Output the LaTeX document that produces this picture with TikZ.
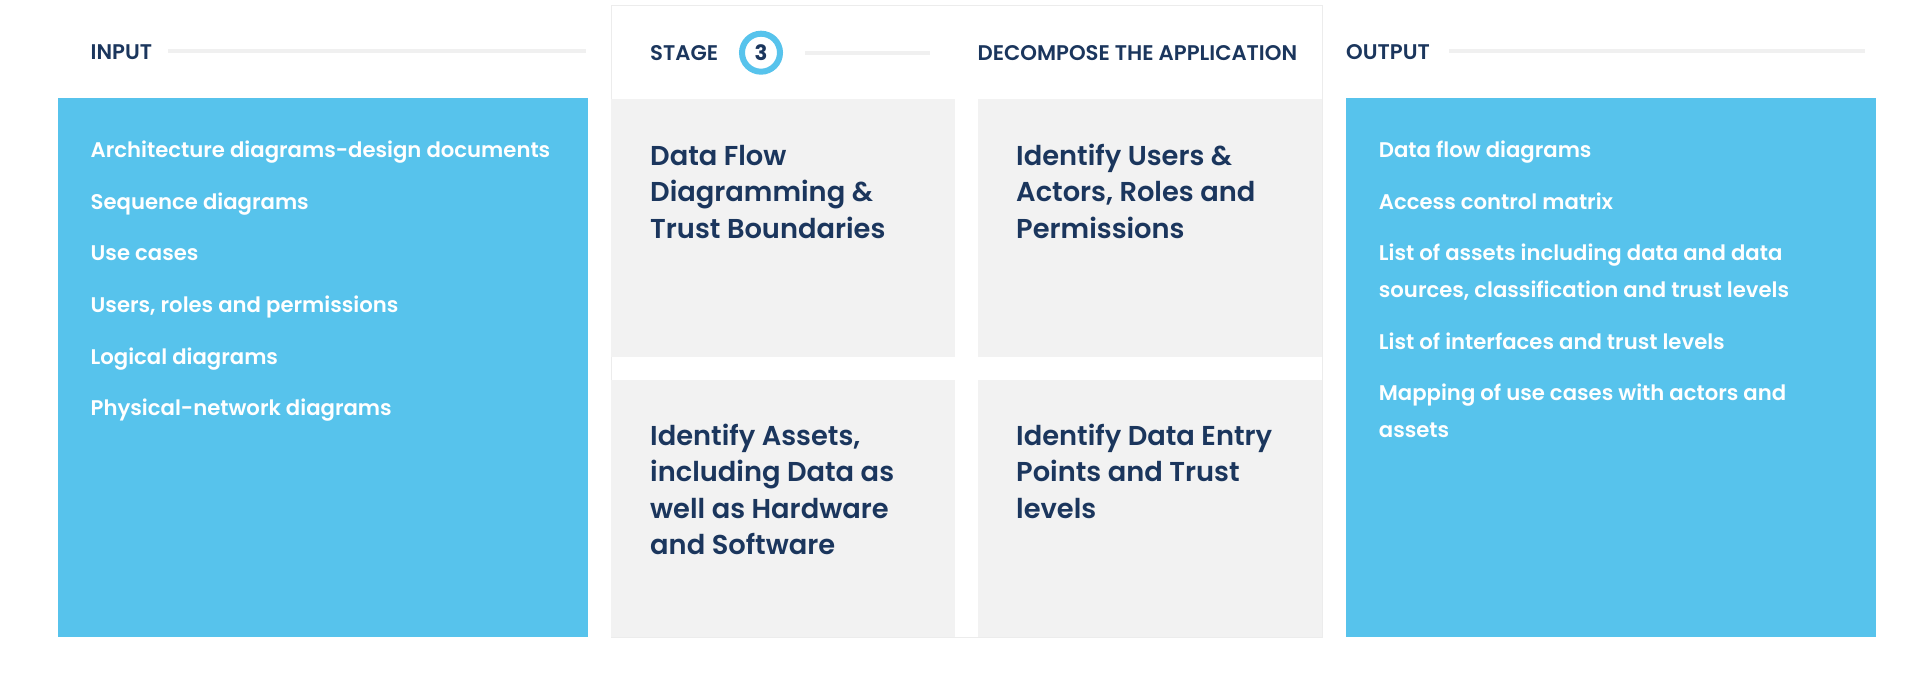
\documentclass[tikz,border=0pt]{standalone}
\usepackage{fontspec}
\setmainfont{Poppins}[UprightFont={* SemiBold}, BoldFont={* Bold}]
\definecolor{cblue}{HTML}{57C3EC}
\definecolor{navy}{HTML}{1B365D}
\definecolor{cgrey}{HTML}{F2F2F2}
\definecolor{cline}{HTML}{F0F0F0}
\definecolor{cborder}{HTML}{ECECEC}
\tikzset{
  bluebox/.style={fill=cblue, draw=none, inner sep=0pt, anchor=north west, minimum width=530.5pt, minimum height=539.5pt},
  greybox/.style={fill=cgrey, draw=none, inner sep=0pt, anchor=north west, minimum width=344pt, minimum height=257.7pt},
  panelbox/.style={fill=white, draw=cborder, line width=1pt, inner sep=0pt, anchor=north west, minimum width=711pt, minimum height=632pt},
  headtxt/.style={text=navy, inner sep=0pt, anchor=base west, font=\fontsize{21.2}{26}\selectfont},
  itemtxt/.style={text=white, inner sep=0pt, anchor=base west, align=left, font=\fontsize{21.2}{36.7}\selectfont},
  bigtxt/.style={text=navy, inner sep=0pt, anchor=base west, align=left, font=\fontsize{27.3}{36.6}\selectfont},
  rule/.style={draw=cline, line width=4pt},
}
\begin{document}
\begin{tikzpicture}[x=1pt,y=-1pt]
\useasboundingbox (0,0) rectangle (1920,680);
\fill[white] (0,0) rectangle (1920,680);

% panels
\node[bluebox] (inbox) at (57.5,97.5) {};
\node[bluebox] (outbox) at (1345.5,97.5) {};
\node[panelbox] (panel) at (611,5) {};
\node[greybox] (g1) at (611,99) {};
\node[greybox] (g2) at (977.5,99) {};
\node[greybox] (g3) at (611,379.3) {};
\node[greybox] (g4) at (977.5,379.3) {};

% headers
\node[headtxt] (hin) at (90.5,59.5) {INPUT};
\coordinate (hinA) at (168,51.3);
\coordinate (hinB) at (586,51.3);
\draw[rule] (hinA) -- (hinB);

\node[headtxt] (hst) at (650,60) {STAGE};
\node[circle, draw=cblue, line width=6pt, minimum size=38pt, inner sep=0pt, text=navy, font=\fontsize{21.2}{26}\bfseries] (num) at (761,52.7) {3};
\coordinate (hstA) at (805,52.7);
\coordinate (hstB) at (930,52.7);
\draw[rule] (hstA) -- (hstB);
\node[headtxt] (hdec) at (977.5,60) {DECOMPOSE THE APPLICATION};

\node[headtxt] (hout) at (1346,59.5) {OUTPUT};
\coordinate (houtA) at (1449,51.3);
\coordinate (houtB) at (1865,51.3);
\draw[rule] (houtA) -- (houtB);

% input items
\node[itemtxt] (i1) at (90.5,157.3) {Architecture diagrams-design documents};
\node[itemtxt] (i2) at (90.5,209) {Sequence diagrams};
\node[itemtxt] (i3) at (90.5,260.7) {Use cases};
\node[itemtxt] (i4) at (90.5,312.4) {Users, roles and permissions};
\node[itemtxt] (i5) at (90.5,364.1) {Logical diagrams};
\node[itemtxt] (i6) at (90.5,415.8) {Physical-network diagrams};

% output items (multi-line nodes: base anchor = last line)
\node[itemtxt] (o1) at (1378.7,157.3) {Data flow diagrams};
\node[itemtxt] (o2) at (1378.7,209) {Access control matrix};
\node[itemtxt] (o3) at (1378.7,297.4) {List of assets including data and data\\sources, classification and trust levels};
\node[itemtxt] (o4) at (1378.7,349.1) {List of interfaces and trust levels};
\node[itemtxt] (o5) at (1378.7,437.5) {Mapping of use cases with actors and\\assets};

% stage texts
\node[bigtxt] (t1) at (650,238.2) {Data Flow\\Diagramming \&\\Trust Boundaries};
\node[bigtxt] (t2) at (1016,238.2) {Identify Users \&\\Actors, Roles and\\Permissions};
\node[bigtxt] (t3) at (650,554.8) {Identify Assets,\\including Data as\\well as Hardware\\and Software};
\node[bigtxt] (t4) at (1016,518.2) {Identify Data Entry\\Points and Trust\\levels};
\end{tikzpicture}
\end{document}
